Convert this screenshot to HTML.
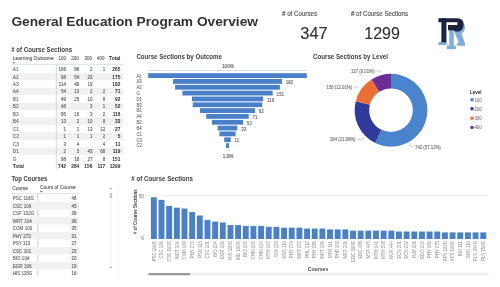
<!DOCTYPE html>
<html><head><meta charset="utf-8"><style>
html,body{margin:0;padding:0;background:#fff;width:500px;height:287px;overflow:hidden}
svg{display:block;filter:blur(0.5px)}
text{font-family:"Liberation Sans",sans-serif}
</style></head><body>
<svg width="500" height="287" viewBox="0 0 500 287">
<text x="11.4" y="25.7" font-size="13.5" fill="#333333" font-weight="bold" textLength="246.6" lengthAdjust="spacingAndGlyphs">General Education Program Overview</text>
<text x="282" y="16" font-size="6.6" fill="#555555" stroke="#555555" stroke-width="0.16" textLength="35" lengthAdjust="spacingAndGlyphs"># of Courses</text>
<text x="351" y="16" font-size="6.6" fill="#555555" stroke="#555555" stroke-width="0.16" textLength="57" lengthAdjust="spacingAndGlyphs"># of Course Sections</text>
<text x="300.3" y="39.1" font-size="16.5" fill="#333333" stroke="#333333" stroke-width="0.16" textLength="27.3" lengthAdjust="spacingAndGlyphs">347</text>
<text x="364.3" y="39.2" font-size="16.5" fill="#333333" stroke="#333333" stroke-width="0.16" textLength="35.6" lengthAdjust="spacingAndGlyphs">1299</text>
<text x="11.2" y="51.5" font-size="7" fill="#404040" font-weight="bold" textLength="61" lengthAdjust="spacingAndGlyphs"># of Course Sections</text>
<text x="12.8" y="60" font-size="5.6" fill="#666666" stroke="#666666" stroke-width="0.16" textLength="41" lengthAdjust="spacingAndGlyphs">Learning Outcome</text>
<path d="M12.3 63.2 L13.8 61.8 L15.3 63.2 Z" fill="#666"/>
<text x="66" y="60" font-size="5.6" fill="#666666" stroke="#666666" stroke-width="0.16" text-anchor="end" textLength="7.47" lengthAdjust="spacingAndGlyphs">100</text>
<text x="78.8" y="60" font-size="5.6" fill="#666666" stroke="#666666" stroke-width="0.16" text-anchor="end" textLength="7.47" lengthAdjust="spacingAndGlyphs">200</text>
<text x="92" y="60" font-size="5.6" fill="#666666" stroke="#666666" stroke-width="0.16" text-anchor="end" textLength="7.47" lengthAdjust="spacingAndGlyphs">300</text>
<text x="104.4" y="60" font-size="5.6" fill="#666666" stroke="#666666" stroke-width="0.16" text-anchor="end" textLength="7.47" lengthAdjust="spacingAndGlyphs">400</text>
<text x="120.4" y="60" font-size="5.6" fill="#2B2B2B" text-anchor="end" font-weight="bold" textLength="11.4" lengthAdjust="spacingAndGlyphs">Total</text>
<text x="12.8" y="71.125" font-size="5.3" fill="#777777" stroke="#777777" stroke-width="0.16" textLength="5.83" lengthAdjust="spacingAndGlyphs">A1</text>
<text x="66" y="71.125" font-size="5.6" fill="#666666" stroke="#666666" stroke-width="0.16" text-anchor="end" textLength="7.47" lengthAdjust="spacingAndGlyphs">166</text>
<text x="79.3" y="71.125" font-size="5.6" fill="#666666" stroke="#666666" stroke-width="0.16" text-anchor="end" textLength="4.98" lengthAdjust="spacingAndGlyphs">96</text>
<text x="92.4" y="71.125" font-size="5.6" fill="#666666" stroke="#666666" stroke-width="0.16" text-anchor="end" textLength="2.49" lengthAdjust="spacingAndGlyphs">2</text>
<text x="105.2" y="71.125" font-size="5.6" fill="#666666" stroke="#666666" stroke-width="0.16" text-anchor="end" textLength="2.49" lengthAdjust="spacingAndGlyphs">1</text>
<text x="120.4" y="71.125" font-size="5.6" fill="#2B2B2B" text-anchor="end" font-weight="bold" textLength="8.03" lengthAdjust="spacingAndGlyphs">265</text>
<rect x="11.00" y="72.85" width="112.50" height="7.45" fill="#F1F1F1"/>
<text x="12.8" y="78.575" font-size="5.3" fill="#777777" stroke="#777777" stroke-width="0.16" textLength="5.83" lengthAdjust="spacingAndGlyphs">A2</text>
<text x="66" y="78.575" font-size="5.6" fill="#666666" stroke="#666666" stroke-width="0.16" text-anchor="end" textLength="4.98" lengthAdjust="spacingAndGlyphs">98</text>
<text x="79.3" y="78.575" font-size="5.6" fill="#666666" stroke="#666666" stroke-width="0.16" text-anchor="end" textLength="4.98" lengthAdjust="spacingAndGlyphs">54</text>
<text x="92.4" y="78.575" font-size="5.6" fill="#666666" stroke="#666666" stroke-width="0.16" text-anchor="end" textLength="4.98" lengthAdjust="spacingAndGlyphs">23</text>
<text x="120.4" y="78.575" font-size="5.6" fill="#2B2B2B" text-anchor="end" font-weight="bold" textLength="8.03" lengthAdjust="spacingAndGlyphs">175</text>
<text x="12.8" y="86.025" font-size="5.3" fill="#777777" stroke="#777777" stroke-width="0.16" textLength="5.83" lengthAdjust="spacingAndGlyphs">A3</text>
<text x="66" y="86.025" font-size="5.6" fill="#666666" stroke="#666666" stroke-width="0.16" text-anchor="end" textLength="7.14" lengthAdjust="spacingAndGlyphs">114</text>
<text x="79.3" y="86.025" font-size="5.6" fill="#666666" stroke="#666666" stroke-width="0.16" text-anchor="end" textLength="4.98" lengthAdjust="spacingAndGlyphs">49</text>
<text x="92.4" y="86.025" font-size="5.6" fill="#666666" stroke="#666666" stroke-width="0.16" text-anchor="end" textLength="4.98" lengthAdjust="spacingAndGlyphs">19</text>
<text x="120.4" y="86.025" font-size="5.6" fill="#2B2B2B" text-anchor="end" font-weight="bold" textLength="8.03" lengthAdjust="spacingAndGlyphs">182</text>
<rect x="11.00" y="87.75" width="112.50" height="7.45" fill="#F1F1F1"/>
<text x="12.8" y="93.475" font-size="5.3" fill="#777777" stroke="#777777" stroke-width="0.16" textLength="5.83" lengthAdjust="spacingAndGlyphs">A4</text>
<text x="66" y="93.475" font-size="5.6" fill="#666666" stroke="#666666" stroke-width="0.16" text-anchor="end" textLength="4.98" lengthAdjust="spacingAndGlyphs">54</text>
<text x="79.3" y="93.475" font-size="5.6" fill="#666666" stroke="#666666" stroke-width="0.16" text-anchor="end" textLength="4.98" lengthAdjust="spacingAndGlyphs">13</text>
<text x="92.4" y="93.475" font-size="5.6" fill="#666666" stroke="#666666" stroke-width="0.16" text-anchor="end" textLength="2.49" lengthAdjust="spacingAndGlyphs">2</text>
<text x="105.2" y="93.475" font-size="5.6" fill="#666666" stroke="#666666" stroke-width="0.16" text-anchor="end" textLength="2.49" lengthAdjust="spacingAndGlyphs">2</text>
<text x="120.4" y="93.475" font-size="5.6" fill="#2B2B2B" text-anchor="end" font-weight="bold" textLength="5.36" lengthAdjust="spacingAndGlyphs">71</text>
<text x="12.8" y="100.925" font-size="5.3" fill="#777777" stroke="#777777" stroke-width="0.16" textLength="5.83" lengthAdjust="spacingAndGlyphs">B1</text>
<text x="66" y="100.925" font-size="5.6" fill="#666666" stroke="#666666" stroke-width="0.16" text-anchor="end" textLength="4.98" lengthAdjust="spacingAndGlyphs">49</text>
<text x="79.3" y="100.925" font-size="5.6" fill="#666666" stroke="#666666" stroke-width="0.16" text-anchor="end" textLength="4.98" lengthAdjust="spacingAndGlyphs">25</text>
<text x="92.4" y="100.925" font-size="5.6" fill="#666666" stroke="#666666" stroke-width="0.16" text-anchor="end" textLength="4.98" lengthAdjust="spacingAndGlyphs">10</text>
<text x="105.2" y="100.925" font-size="5.6" fill="#666666" stroke="#666666" stroke-width="0.16" text-anchor="end" textLength="2.49" lengthAdjust="spacingAndGlyphs">8</text>
<text x="120.4" y="100.925" font-size="5.6" fill="#2B2B2B" text-anchor="end" font-weight="bold" textLength="5.36" lengthAdjust="spacingAndGlyphs">92</text>
<rect x="11.00" y="102.65" width="112.50" height="7.45" fill="#F1F1F1"/>
<text x="12.8" y="108.375" font-size="5.3" fill="#777777" stroke="#777777" stroke-width="0.16" textLength="5.83" lengthAdjust="spacingAndGlyphs">B2</text>
<text x="66" y="108.375" font-size="5.6" fill="#666666" stroke="#666666" stroke-width="0.16" text-anchor="end" textLength="4.98" lengthAdjust="spacingAndGlyphs">48</text>
<text x="92.4" y="108.375" font-size="5.6" fill="#666666" stroke="#666666" stroke-width="0.16" text-anchor="end" textLength="2.49" lengthAdjust="spacingAndGlyphs">3</text>
<text x="105.2" y="108.375" font-size="5.6" fill="#666666" stroke="#666666" stroke-width="0.16" text-anchor="end" textLength="2.49" lengthAdjust="spacingAndGlyphs">1</text>
<text x="120.4" y="108.375" font-size="5.6" fill="#2B2B2B" text-anchor="end" font-weight="bold" textLength="5.36" lengthAdjust="spacingAndGlyphs">52</text>
<text x="12.8" y="115.825" font-size="5.3" fill="#777777" stroke="#777777" stroke-width="0.16" textLength="5.83" lengthAdjust="spacingAndGlyphs">B3</text>
<text x="66" y="115.825" font-size="5.6" fill="#666666" stroke="#666666" stroke-width="0.16" text-anchor="end" textLength="4.98" lengthAdjust="spacingAndGlyphs">95</text>
<text x="79.3" y="115.825" font-size="5.6" fill="#666666" stroke="#666666" stroke-width="0.16" text-anchor="end" textLength="4.98" lengthAdjust="spacingAndGlyphs">16</text>
<text x="92.4" y="115.825" font-size="5.6" fill="#666666" stroke="#666666" stroke-width="0.16" text-anchor="end" textLength="2.49" lengthAdjust="spacingAndGlyphs">3</text>
<text x="105.2" y="115.825" font-size="5.6" fill="#666666" stroke="#666666" stroke-width="0.16" text-anchor="end" textLength="2.49" lengthAdjust="spacingAndGlyphs">2</text>
<text x="120.4" y="115.825" font-size="5.6" fill="#2B2B2B" text-anchor="end" font-weight="bold" textLength="7.77" lengthAdjust="spacingAndGlyphs">116</text>
<rect x="11.00" y="117.55" width="112.50" height="7.45" fill="#F1F1F1"/>
<text x="12.8" y="123.275" font-size="5.3" fill="#777777" stroke="#777777" stroke-width="0.16" textLength="5.83" lengthAdjust="spacingAndGlyphs">B4</text>
<text x="66" y="123.275" font-size="5.6" fill="#666666" stroke="#666666" stroke-width="0.16" text-anchor="end" textLength="4.98" lengthAdjust="spacingAndGlyphs">13</text>
<text x="79.3" y="123.275" font-size="5.6" fill="#666666" stroke="#666666" stroke-width="0.16" text-anchor="end" textLength="2.49" lengthAdjust="spacingAndGlyphs">2</text>
<text x="92.4" y="123.275" font-size="5.6" fill="#666666" stroke="#666666" stroke-width="0.16" text-anchor="end" textLength="4.98" lengthAdjust="spacingAndGlyphs">10</text>
<text x="105.2" y="123.275" font-size="5.6" fill="#666666" stroke="#666666" stroke-width="0.16" text-anchor="end" textLength="2.49" lengthAdjust="spacingAndGlyphs">8</text>
<text x="120.4" y="123.275" font-size="5.6" fill="#2B2B2B" text-anchor="end" font-weight="bold" textLength="5.36" lengthAdjust="spacingAndGlyphs">33</text>
<text x="12.8" y="130.725" font-size="5.3" fill="#777777" stroke="#777777" stroke-width="0.16" textLength="6.1" lengthAdjust="spacingAndGlyphs">C1</text>
<text x="66" y="130.725" font-size="5.6" fill="#666666" stroke="#666666" stroke-width="0.16" text-anchor="end" textLength="2.49" lengthAdjust="spacingAndGlyphs">1</text>
<text x="79.3" y="130.725" font-size="5.6" fill="#666666" stroke="#666666" stroke-width="0.16" text-anchor="end" textLength="2.49" lengthAdjust="spacingAndGlyphs">1</text>
<text x="92.4" y="130.725" font-size="5.6" fill="#666666" stroke="#666666" stroke-width="0.16" text-anchor="end" textLength="4.98" lengthAdjust="spacingAndGlyphs">13</text>
<text x="105.2" y="130.725" font-size="5.6" fill="#666666" stroke="#666666" stroke-width="0.16" text-anchor="end" textLength="4.98" lengthAdjust="spacingAndGlyphs">12</text>
<text x="120.4" y="130.725" font-size="5.6" fill="#2B2B2B" text-anchor="end" font-weight="bold" textLength="5.36" lengthAdjust="spacingAndGlyphs">27</text>
<rect x="11.00" y="132.45" width="112.50" height="7.45" fill="#F1F1F1"/>
<text x="12.8" y="138.17499999999998" font-size="5.3" fill="#777777" stroke="#777777" stroke-width="0.16" textLength="6.1" lengthAdjust="spacingAndGlyphs">C2</text>
<text x="66" y="138.17499999999998" font-size="5.6" fill="#666666" stroke="#666666" stroke-width="0.16" text-anchor="end" textLength="2.49" lengthAdjust="spacingAndGlyphs">1</text>
<text x="79.3" y="138.17499999999998" font-size="5.6" fill="#666666" stroke="#666666" stroke-width="0.16" text-anchor="end" textLength="2.49" lengthAdjust="spacingAndGlyphs">1</text>
<text x="92.4" y="138.17499999999998" font-size="5.6" fill="#666666" stroke="#666666" stroke-width="0.16" text-anchor="end" textLength="2.49" lengthAdjust="spacingAndGlyphs">1</text>
<text x="105.2" y="138.17499999999998" font-size="5.6" fill="#666666" stroke="#666666" stroke-width="0.16" text-anchor="end" textLength="2.49" lengthAdjust="spacingAndGlyphs">2</text>
<text x="120.4" y="138.17499999999998" font-size="5.6" fill="#2B2B2B" text-anchor="end" font-weight="bold" textLength="2.68" lengthAdjust="spacingAndGlyphs">5</text>
<text x="12.8" y="145.625" font-size="5.3" fill="#777777" stroke="#777777" stroke-width="0.16" textLength="6.1" lengthAdjust="spacingAndGlyphs">C3</text>
<text x="66" y="145.625" font-size="5.6" fill="#666666" stroke="#666666" stroke-width="0.16" text-anchor="end" textLength="2.49" lengthAdjust="spacingAndGlyphs">3</text>
<text x="79.3" y="145.625" font-size="5.6" fill="#666666" stroke="#666666" stroke-width="0.16" text-anchor="end" textLength="2.49" lengthAdjust="spacingAndGlyphs">4</text>
<text x="105.2" y="145.625" font-size="5.6" fill="#666666" stroke="#666666" stroke-width="0.16" text-anchor="end" textLength="2.49" lengthAdjust="spacingAndGlyphs">4</text>
<text x="120.4" y="145.625" font-size="5.6" fill="#2B2B2B" text-anchor="end" font-weight="bold" textLength="5.09" lengthAdjust="spacingAndGlyphs">11</text>
<rect x="11.00" y="147.35" width="112.50" height="7.45" fill="#F1F1F1"/>
<text x="12.8" y="153.07500000000002" font-size="5.3" fill="#777777" stroke="#777777" stroke-width="0.16" textLength="6.1" lengthAdjust="spacingAndGlyphs">D1</text>
<text x="66" y="153.07500000000002" font-size="5.6" fill="#666666" stroke="#666666" stroke-width="0.16" text-anchor="end" textLength="2.49" lengthAdjust="spacingAndGlyphs">2</text>
<text x="79.3" y="153.07500000000002" font-size="5.6" fill="#666666" stroke="#666666" stroke-width="0.16" text-anchor="end" textLength="2.49" lengthAdjust="spacingAndGlyphs">5</text>
<text x="92.4" y="153.07500000000002" font-size="5.6" fill="#666666" stroke="#666666" stroke-width="0.16" text-anchor="end" textLength="4.98" lengthAdjust="spacingAndGlyphs">43</text>
<text x="105.2" y="153.07500000000002" font-size="5.6" fill="#666666" stroke="#666666" stroke-width="0.16" text-anchor="end" textLength="4.98" lengthAdjust="spacingAndGlyphs">69</text>
<text x="120.4" y="153.07500000000002" font-size="5.6" fill="#2B2B2B" text-anchor="end" font-weight="bold" textLength="7.77" lengthAdjust="spacingAndGlyphs">119</text>
<text x="12.8" y="160.525" font-size="5.3" fill="#777777" stroke="#777777" stroke-width="0.16" textLength="3.71" lengthAdjust="spacingAndGlyphs">G</text>
<text x="66" y="160.525" font-size="5.6" fill="#666666" stroke="#666666" stroke-width="0.16" text-anchor="end" textLength="4.98" lengthAdjust="spacingAndGlyphs">98</text>
<text x="79.3" y="160.525" font-size="5.6" fill="#666666" stroke="#666666" stroke-width="0.16" text-anchor="end" textLength="4.98" lengthAdjust="spacingAndGlyphs">18</text>
<text x="92.4" y="160.525" font-size="5.6" fill="#666666" stroke="#666666" stroke-width="0.16" text-anchor="end" textLength="4.98" lengthAdjust="spacingAndGlyphs">27</text>
<text x="105.2" y="160.525" font-size="5.6" fill="#666666" stroke="#666666" stroke-width="0.16" text-anchor="end" textLength="2.49" lengthAdjust="spacingAndGlyphs">8</text>
<text x="120.4" y="160.525" font-size="5.6" fill="#2B2B2B" text-anchor="end" font-weight="bold" textLength="8.03" lengthAdjust="spacingAndGlyphs">151</text>
<text x="12.8" y="167.975" font-size="5.6" fill="#2B2B2B" font-weight="bold" textLength="11.15" lengthAdjust="spacingAndGlyphs">Total</text>
<text x="66" y="167.975" font-size="5.6" fill="#2B2B2B" text-anchor="end" font-weight="bold" textLength="8.03" lengthAdjust="spacingAndGlyphs">742</text>
<text x="79.3" y="167.975" font-size="5.6" fill="#2B2B2B" text-anchor="end" font-weight="bold" textLength="8.03" lengthAdjust="spacingAndGlyphs">284</text>
<text x="92.4" y="167.975" font-size="5.6" fill="#2B2B2B" text-anchor="end" font-weight="bold" textLength="8.03" lengthAdjust="spacingAndGlyphs">156</text>
<text x="105.2" y="167.975" font-size="5.6" fill="#2B2B2B" text-anchor="end" font-weight="bold" textLength="7.77" lengthAdjust="spacingAndGlyphs">117</text>
<text x="120.4" y="167.975" font-size="5.6" fill="#2B2B2B" text-anchor="end" font-weight="bold" textLength="10.71" lengthAdjust="spacingAndGlyphs">1299</text>
<line x1="11" y1="64.3" x2="123.5" y2="64.3" stroke="#C5D2E2" stroke-width="0.7"/>
<line x1="56.3" y1="64.3" x2="56.3" y2="169.5" stroke="#B9C9DD" stroke-width="0.7"/>
<text x="11.4" y="181" font-size="7" fill="#404040" font-weight="bold" textLength="36" lengthAdjust="spacingAndGlyphs">Top Courses</text>
<text x="12.2" y="189.5" font-size="5.6" fill="#666666" stroke="#666666" stroke-width="0.16" textLength="15.89" lengthAdjust="spacingAndGlyphs">Course</text>
<text x="40" y="189.2" font-size="5.6" fill="#666666" stroke="#666666" stroke-width="0.16" textLength="35.6" lengthAdjust="spacingAndGlyphs">Count of Course</text>
<path d="M40 190.9 L41.4 192.5 L42.8 190.9 Z" fill="#555"/>
<line x1="11" y1="193.7" x2="79" y2="193.7" stroke="#C5D2E2" stroke-width="0.7"/>
<line x1="37.8" y1="193.7" x2="37.8" y2="276" stroke="#AFC2DA" stroke-width="0.75"/>
<text x="12.8" y="200.34" font-size="5.4" fill="#6E6E6E" stroke="#6E6E6E" stroke-width="0.16" textLength="21.35" lengthAdjust="spacingAndGlyphs">PSC 116G</text>
<text x="76.4" y="200.34" font-size="5.6" fill="#666666" stroke="#666666" stroke-width="0.16" text-anchor="end" textLength="4.98" lengthAdjust="spacingAndGlyphs">48</text>
<rect x="11.00" y="202.08" width="68.00" height="7.48" fill="#F1F1F1"/>
<text x="12.8" y="207.82" font-size="5.4" fill="#6E6E6E" stroke="#6E6E6E" stroke-width="0.16" textLength="18.4" lengthAdjust="spacingAndGlyphs">CSC 106</text>
<text x="76.4" y="207.82" font-size="5.6" fill="#666666" stroke="#666666" stroke-width="0.16" text-anchor="end" textLength="4.98" lengthAdjust="spacingAndGlyphs">45</text>
<text x="12.8" y="215.3" font-size="5.4" fill="#6E6E6E" stroke="#6E6E6E" stroke-width="0.16" textLength="21.43" lengthAdjust="spacingAndGlyphs">CSF 102G</text>
<text x="76.4" y="215.3" font-size="5.6" fill="#666666" stroke="#666666" stroke-width="0.16" text-anchor="end" textLength="4.98" lengthAdjust="spacingAndGlyphs">38</text>
<rect x="11.00" y="217.04" width="68.00" height="7.48" fill="#F1F1F1"/>
<text x="12.8" y="222.78" font-size="5.4" fill="#6E6E6E" stroke="#6E6E6E" stroke-width="0.16" textLength="18.99" lengthAdjust="spacingAndGlyphs">WRT 104</text>
<text x="76.4" y="222.78" font-size="5.6" fill="#666666" stroke="#666666" stroke-width="0.16" text-anchor="end" textLength="4.98" lengthAdjust="spacingAndGlyphs">36</text>
<text x="12.8" y="230.26" font-size="5.4" fill="#6E6E6E" stroke="#6E6E6E" stroke-width="0.16" textLength="19.41" lengthAdjust="spacingAndGlyphs">COM 100</text>
<text x="76.4" y="230.26" font-size="5.6" fill="#666666" stroke="#666666" stroke-width="0.16" text-anchor="end" textLength="4.98" lengthAdjust="spacingAndGlyphs">35</text>
<rect x="11.00" y="232.00" width="68.00" height="7.48" fill="#F1F1F1"/>
<text x="12.8" y="237.74" font-size="5.4" fill="#6E6E6E" stroke="#6E6E6E" stroke-width="0.16" textLength="18.07" lengthAdjust="spacingAndGlyphs">PHY 273</text>
<text x="76.4" y="237.74" font-size="5.6" fill="#666666" stroke="#666666" stroke-width="0.16" text-anchor="end" textLength="4.98" lengthAdjust="spacingAndGlyphs">31</text>
<text x="12.8" y="245.22" font-size="5.4" fill="#6E6E6E" stroke="#6E6E6E" stroke-width="0.16" textLength="17.49" lengthAdjust="spacingAndGlyphs">PSY 113</text>
<text x="76.4" y="245.22" font-size="5.6" fill="#666666" stroke="#666666" stroke-width="0.16" text-anchor="end" textLength="4.98" lengthAdjust="spacingAndGlyphs">27</text>
<rect x="11.00" y="246.96" width="68.00" height="7.48" fill="#F1F1F1"/>
<text x="12.8" y="252.7" font-size="5.4" fill="#6E6E6E" stroke="#6E6E6E" stroke-width="0.16" textLength="18.4" lengthAdjust="spacingAndGlyphs">CSC 101</text>
<text x="76.4" y="252.7" font-size="5.6" fill="#666666" stroke="#666666" stroke-width="0.16" text-anchor="end" textLength="4.98" lengthAdjust="spacingAndGlyphs">22</text>
<text x="12.8" y="260.18" font-size="5.4" fill="#6E6E6E" stroke="#6E6E6E" stroke-width="0.16" textLength="16.64" lengthAdjust="spacingAndGlyphs">BIO 104</text>
<text x="76.4" y="260.18" font-size="5.6" fill="#666666" stroke="#666666" stroke-width="0.16" text-anchor="end" textLength="4.98" lengthAdjust="spacingAndGlyphs">20</text>
<rect x="11.00" y="261.92" width="68.00" height="7.48" fill="#F1F1F1"/>
<text x="12.8" y="267.66" font-size="5.4" fill="#6E6E6E" stroke="#6E6E6E" stroke-width="0.16" textLength="18.66" lengthAdjust="spacingAndGlyphs">EGR 106</text>
<text x="76.4" y="267.66" font-size="5.6" fill="#666666" stroke="#666666" stroke-width="0.16" text-anchor="end" textLength="4.98" lengthAdjust="spacingAndGlyphs">19</text>
<text x="12.8" y="275.14" font-size="5.4" fill="#6E6E6E" stroke="#6E6E6E" stroke-width="0.16" textLength="19.58" lengthAdjust="spacingAndGlyphs">HIS 115G</text>
<text x="76.4" y="275.14" font-size="5.6" fill="#666666" stroke="#666666" stroke-width="0.16" text-anchor="end" textLength="4.98" lengthAdjust="spacingAndGlyphs">16</text>
<rect x="109.90" y="190.00" width="2.20" height="75.50" fill="#F6F6F6"/>
<line x1="117.6" y1="183" x2="117.6" y2="278" stroke="#F4F4F4" stroke-width="0.5"/>
<path d="M109.6 189 L111 187.4 L112.4 189 Z" fill="#999"/>
<rect x="109.80" y="193.20" width="2.40" height="4.80" fill="#C8C8C8"/>
<path d="M109.6 266.8 L111 268.4 L112.4 266.8 Z" fill="#999"/>
<text x="136.4" y="59.4" font-size="7" fill="#404040" font-weight="bold" textLength="85.6" lengthAdjust="spacingAndGlyphs">Course Sections by Outcome</text>
<text x="228" y="67.8" font-size="5.2" fill="#666666" stroke="#666666" stroke-width="0.16" text-anchor="middle" textLength="11.97" lengthAdjust="spacingAndGlyphs">100%</text>
<line x1="148.4" y1="70.5" x2="307" y2="70.5" stroke="#C8D3E0" stroke-width="0.7"/>
<rect x="148.20" y="73.20" width="158.60" height="4.80" fill="#4A80C9"/>
<text x="136.4" y="77.50000000000001" font-size="5.2" fill="#808080" stroke="#808080" stroke-width="0.16" textLength="5.41" lengthAdjust="spacingAndGlyphs">A1</text>
<rect x="173.04" y="79.03" width="108.93" height="4.80" fill="#4A80C9"/>
<text x="136.4" y="83.33000000000001" font-size="5.2" fill="#808080" stroke="#808080" stroke-width="0.16" textLength="5.41" lengthAdjust="spacingAndGlyphs">A3</text>
<text x="285.762641509434" y="84.03" font-size="5.2" fill="#707070" stroke="#707070" stroke-width="0.16" textLength="7.63" lengthAdjust="spacingAndGlyphs">182</text>
<rect x="175.13" y="84.86" width="104.74" height="4.80" fill="#4A80C9"/>
<text x="136.4" y="89.16000000000001" font-size="5.2" fill="#808080" stroke="#808080" stroke-width="0.16" textLength="5.41" lengthAdjust="spacingAndGlyphs">A2</text>
<rect x="182.31" y="90.69" width="90.37" height="4.80" fill="#4A80C9"/>
<text x="136.4" y="94.99000000000001" font-size="5.2" fill="#808080" stroke="#808080" stroke-width="0.16" textLength="3.44" lengthAdjust="spacingAndGlyphs">G</text>
<text x="276.48603773584904" y="95.69" font-size="5.2" fill="#707070" stroke="#707070" stroke-width="0.16" textLength="7.63" lengthAdjust="spacingAndGlyphs">151</text>
<rect x="191.89" y="96.52" width="71.22" height="4.80" fill="#4A80C9"/>
<text x="136.4" y="100.82000000000002" font-size="5.2" fill="#808080" stroke="#808080" stroke-width="0.16" textLength="5.65" lengthAdjust="spacingAndGlyphs">D1</text>
<text x="266.91018867924527" y="101.52000000000001" font-size="5.2" fill="#707070" stroke="#707070" stroke-width="0.16" textLength="7.29" lengthAdjust="spacingAndGlyphs">119</text>
<rect x="192.79" y="102.35" width="69.42" height="4.80" fill="#4A80C9"/>
<text x="136.4" y="106.65" font-size="5.2" fill="#808080" stroke="#808080" stroke-width="0.16" textLength="5.41" lengthAdjust="spacingAndGlyphs">B3</text>
<rect x="199.97" y="108.18" width="55.06" height="4.80" fill="#4A80C9"/>
<text x="136.4" y="112.48000000000002" font-size="5.2" fill="#808080" stroke="#808080" stroke-width="0.16" textLength="5.41" lengthAdjust="spacingAndGlyphs">B1</text>
<text x="258.8305660377358" y="113.18" font-size="5.2" fill="#707070" stroke="#707070" stroke-width="0.16" textLength="5.09" lengthAdjust="spacingAndGlyphs">92</text>
<rect x="206.25" y="114.01" width="42.49" height="4.80" fill="#4A80C9"/>
<text x="136.4" y="118.31000000000002" font-size="5.2" fill="#808080" stroke="#808080" stroke-width="0.16" textLength="5.41" lengthAdjust="spacingAndGlyphs">A4</text>
<text x="252.54641509433964" y="119.01" font-size="5.2" fill="#707070" stroke="#707070" stroke-width="0.16" textLength="5.09" lengthAdjust="spacingAndGlyphs">71</text>
<rect x="211.94" y="119.84" width="31.12" height="4.80" fill="#4A80C9"/>
<text x="136.4" y="124.14000000000001" font-size="5.2" fill="#808080" stroke="#808080" stroke-width="0.16" textLength="5.41" lengthAdjust="spacingAndGlyphs">B2</text>
<text x="246.86075471698115" y="124.84" font-size="5.2" fill="#707070" stroke="#707070" stroke-width="0.16" textLength="5.09" lengthAdjust="spacingAndGlyphs">52</text>
<rect x="217.62" y="125.67" width="19.75" height="4.80" fill="#4A80C9"/>
<text x="136.4" y="129.97" font-size="5.2" fill="#808080" stroke="#808080" stroke-width="0.16" textLength="5.41" lengthAdjust="spacingAndGlyphs">B4</text>
<text x="241.17509433962266" y="130.67" font-size="5.2" fill="#707070" stroke="#707070" stroke-width="0.16" textLength="5.09" lengthAdjust="spacingAndGlyphs">33</text>
<rect x="219.42" y="131.50" width="16.16" height="4.80" fill="#4A80C9"/>
<text x="136.4" y="135.8" font-size="5.2" fill="#808080" stroke="#808080" stroke-width="0.16" textLength="5.65" lengthAdjust="spacingAndGlyphs">C1</text>
<rect x="224.21" y="137.33" width="6.58" height="4.80" fill="#4A80C9"/>
<text x="136.4" y="141.63" font-size="5.2" fill="#808080" stroke="#808080" stroke-width="0.16" textLength="5.65" lengthAdjust="spacingAndGlyphs">C3</text>
<text x="234.59169811320757" y="142.32999999999998" font-size="5.2" fill="#707070" stroke="#707070" stroke-width="0.16" textLength="4.75" lengthAdjust="spacingAndGlyphs">11</text>
<rect x="226.00" y="143.16" width="2.99" height="4.80" fill="#4A80C9"/>
<text x="136.4" y="147.46000000000004" font-size="5.2" fill="#808080" stroke="#808080" stroke-width="0.16" textLength="5.65" lengthAdjust="spacingAndGlyphs">C2</text>
<line x1="226" y1="150.3" x2="230" y2="150.3" stroke="#BBBBBB" stroke-width="0.6"/>
<text x="228" y="157.5" font-size="5.2" fill="#666666" stroke="#666666" stroke-width="0.16" text-anchor="middle" textLength="10.67" lengthAdjust="spacingAndGlyphs">1.9%</text>
<text x="313" y="59.4" font-size="7" fill="#404040" font-weight="bold" textLength="75" lengthAdjust="spacingAndGlyphs">Course Sections by Level</text>
<path d="M391.00 73.80 A36.4 36.4 0 1 1 375.25 143.02 L381.57 129.85 A21.8 21.8 0 1 0 391.00 88.40 Z" fill="#4A84CE"/>
<path d="M375.25 143.02 A36.4 36.4 0 0 1 355.73 101.18 L369.88 104.80 A21.8 21.8 0 0 0 381.57 129.85 Z" fill="#2F3C9E"/>
<path d="M355.73 101.18 A36.4 36.4 0 0 1 371.48 79.47 L379.31 91.80 A21.8 21.8 0 0 0 369.88 104.80 Z" fill="#EB6F34"/>
<path d="M371.48 79.47 A36.4 36.4 0 0 1 391.00 73.80 L391.00 88.40 A21.8 21.8 0 0 0 379.31 91.80 Z" fill="#6C2E94"/>
<text x="351" y="72.8" font-size="5" fill="#7A7A7A" stroke="#7A7A7A" stroke-width="0.16" textLength="23.6" lengthAdjust="spacingAndGlyphs">117 (9.01%)</text>
<polyline points="375.5,71 380,71 381,72.5" fill="none" stroke="#A8A8A8" stroke-width="0.55"/>
<text x="326.6" y="88.8" font-size="5" fill="#7A7A7A" stroke="#7A7A7A" stroke-width="0.16" textLength="25.4" lengthAdjust="spacingAndGlyphs">156 (12.01%)</text>
<line x1="353.8" y1="87" x2="359.2" y2="87" stroke="#A8A8A8" stroke-width="0.55"/>
<text x="330" y="141" font-size="5" fill="#7A7A7A" stroke="#7A7A7A" stroke-width="0.16" textLength="25.5" lengthAdjust="spacingAndGlyphs">284 (21.86%)</text>
<polyline points="358,139.5 361,139.5 364,137" fill="none" stroke="#A0A0A0" stroke-width="0.5"/>
<text x="415" y="148.8" font-size="5" fill="#7A7A7A" stroke="#7A7A7A" stroke-width="0.16" textLength="25.8" lengthAdjust="spacingAndGlyphs">742 (57.12%)</text>
<polyline points="408,141 411,147 413.5,147" fill="none" stroke="#A0A0A0" stroke-width="0.5"/>
<text x="470" y="93.5" font-size="5.2" fill="#2B2B2B" font-weight="bold" textLength="11.6" lengthAdjust="spacingAndGlyphs">Level</text>
<circle cx="472" cy="99.7" r="1.75" fill="#4A84CE"/>
<text x="474.5" y="101.5" font-size="5" fill="#8A8A8A" stroke="#8A8A8A" stroke-width="0.16" textLength="7.09" lengthAdjust="spacingAndGlyphs">100</text>
<circle cx="472" cy="108.7" r="1.75" fill="#2F3C9E"/>
<text x="474.5" y="110.5" font-size="5" fill="#8A8A8A" stroke="#8A8A8A" stroke-width="0.16" textLength="7.09" lengthAdjust="spacingAndGlyphs">200</text>
<circle cx="472" cy="118.3" r="1.75" fill="#EB6F34"/>
<text x="474.5" y="120.1" font-size="5" fill="#8A8A8A" stroke="#8A8A8A" stroke-width="0.16" textLength="7.09" lengthAdjust="spacingAndGlyphs">300</text>
<circle cx="472" cy="127.5" r="1.75" fill="#6C2E94"/>
<text x="474.5" y="129.3" font-size="5" fill="#8A8A8A" stroke="#8A8A8A" stroke-width="0.16" textLength="7.09" lengthAdjust="spacingAndGlyphs">400</text>
<text x="131.3" y="181" font-size="7" fill="#404040" font-weight="bold" textLength="61.7" lengthAdjust="spacingAndGlyphs"># of Course Sections</text>
<text transform="translate(136.5,234.2) rotate(-90)" font-size="5.8" font-weight="bold" fill="#444444" textLength="45" lengthAdjust="spacingAndGlyphs"># of Course Sections</text>
<line x1="146" y1="195.6" x2="488" y2="195.6" stroke="#E2E2E2" stroke-width="0.6"/>
<text x="144" y="197.6" font-size="4.8" fill="#9A9A9A" stroke="#9A9A9A" stroke-width="0.16" text-anchor="end">50</text>
<text x="144" y="240.4" font-size="4.8" fill="#9A9A9A" stroke="#9A9A9A" stroke-width="0.16" text-anchor="end">0</text>
<rect x="150.90" y="197.24" width="5.90" height="41.76" fill="#4A80C9"/>
<text transform="translate(155.55,241) rotate(-90)" font-size="4.8" fill="#8E8E8E" text-anchor="end" textLength="20.33" lengthAdjust="spacingAndGlyphs">PSC 116G</text>
<rect x="158.56" y="199.85" width="5.90" height="39.15" fill="#4A80C9"/>
<text transform="translate(163.21,241) rotate(-90)" font-size="4.8" fill="#8E8E8E" text-anchor="end" textLength="17.53" lengthAdjust="spacingAndGlyphs">CSC 106</text>
<rect x="166.22" y="205.94" width="5.90" height="33.06" fill="#4A80C9"/>
<text transform="translate(170.87,241) rotate(-90)" font-size="4.8" fill="#8E8E8E" text-anchor="end" textLength="20.41" lengthAdjust="spacingAndGlyphs">CSF 102G</text>
<rect x="173.88" y="207.68" width="5.90" height="31.32" fill="#4A80C9"/>
<text transform="translate(178.53,241) rotate(-90)" font-size="4.8" fill="#8E8E8E" text-anchor="end" textLength="18.09" lengthAdjust="spacingAndGlyphs">WRT 104</text>
<rect x="181.54" y="208.55" width="5.90" height="30.45" fill="#4A80C9"/>
<text transform="translate(186.19,241) rotate(-90)" font-size="4.8" fill="#8E8E8E" text-anchor="end" textLength="18.49" lengthAdjust="spacingAndGlyphs">COM 100</text>
<rect x="189.20" y="212.03" width="5.90" height="26.97" fill="#4A80C9"/>
<text transform="translate(193.85,241) rotate(-90)" font-size="4.8" fill="#8E8E8E" text-anchor="end" textLength="17.21" lengthAdjust="spacingAndGlyphs">PHY 273</text>
<rect x="196.86" y="215.51" width="5.90" height="23.49" fill="#4A80C9"/>
<text transform="translate(201.51,241) rotate(-90)" font-size="4.8" fill="#8E8E8E" text-anchor="end" textLength="16.65" lengthAdjust="spacingAndGlyphs">PSY 113</text>
<rect x="204.52" y="219.86" width="5.90" height="19.14" fill="#4A80C9"/>
<text transform="translate(209.17,241) rotate(-90)" font-size="4.8" fill="#8E8E8E" text-anchor="end" textLength="17.53" lengthAdjust="spacingAndGlyphs">CSC 101</text>
<rect x="212.18" y="221.60" width="5.90" height="17.40" fill="#4A80C9"/>
<text transform="translate(216.83,241) rotate(-90)" font-size="4.8" fill="#8E8E8E" text-anchor="end" textLength="15.85" lengthAdjust="spacingAndGlyphs">BIO 104</text>
<rect x="219.84" y="222.47" width="5.90" height="16.53" fill="#4A80C9"/>
<text transform="translate(224.49,241) rotate(-90)" font-size="4.8" fill="#8E8E8E" text-anchor="end" textLength="17.77" lengthAdjust="spacingAndGlyphs">EGR 106</text>
<rect x="227.50" y="225.08" width="5.90" height="13.92" fill="#4A80C9"/>
<text transform="translate(232.15,241) rotate(-90)" font-size="4.8" fill="#8E8E8E" text-anchor="end" textLength="18.65" lengthAdjust="spacingAndGlyphs">HIS 115G</text>
<rect x="235.16" y="225.08" width="5.90" height="13.92" fill="#4A80C9"/>
<text transform="translate(239.81,241) rotate(-90)" font-size="4.8" fill="#8E8E8E" text-anchor="end" textLength="18.97" lengthAdjust="spacingAndGlyphs">INE 100G</text>
<rect x="242.82" y="225.95" width="5.90" height="13.05" fill="#4A80C9"/>
<text transform="translate(247.47,241) rotate(-90)" font-size="4.8" fill="#8E8E8E" text-anchor="end" textLength="15.85" lengthAdjust="spacingAndGlyphs">BIO 103</text>
<rect x="250.48" y="225.95" width="5.90" height="13.05" fill="#4A80C9"/>
<text transform="translate(255.13,241) rotate(-90)" font-size="4.8" fill="#8E8E8E" text-anchor="end" textLength="18.25" lengthAdjust="spacingAndGlyphs">CHM 103</text>
<rect x="258.14" y="225.95" width="5.90" height="13.05" fill="#4A80C9"/>
<text transform="translate(262.79,241) rotate(-90)" font-size="4.8" fill="#8E8E8E" text-anchor="end" textLength="18.25" lengthAdjust="spacingAndGlyphs">CHM 124</text>
<rect x="265.80" y="226.82" width="5.90" height="12.18" fill="#4A80C9"/>
<text transform="translate(270.45,241) rotate(-90)" font-size="4.8" fill="#8E8E8E" text-anchor="end" textLength="17.76" lengthAdjust="spacingAndGlyphs">MTH 142</text>
<rect x="273.46" y="226.82" width="5.90" height="12.18" fill="#4A80C9"/>
<text transform="translate(278.11,241) rotate(-90)" font-size="4.8" fill="#8E8E8E" text-anchor="end" textLength="16.25" lengthAdjust="spacingAndGlyphs">STA 220</text>
<rect x="281.12" y="227.69" width="5.90" height="11.31" fill="#4A80C9"/>
<text transform="translate(285.77,241) rotate(-90)" font-size="4.8" fill="#8E8E8E" text-anchor="end" textLength="17.45" lengthAdjust="spacingAndGlyphs">ENG 110</text>
<rect x="288.78" y="227.69" width="5.90" height="11.31" fill="#4A80C9"/>
<text transform="translate(293.43,241) rotate(-90)" font-size="4.8" fill="#8E8E8E" text-anchor="end" textLength="17.21" lengthAdjust="spacingAndGlyphs">PHY 274</text>
<rect x="296.44" y="227.69" width="5.90" height="11.31" fill="#4A80C9"/>
<text transform="translate(301.09,241) rotate(-90)" font-size="4.8" fill="#8E8E8E" text-anchor="end" textLength="18.09" lengthAdjust="spacingAndGlyphs">WRT 227</text>
<rect x="304.10" y="228.56" width="5.90" height="10.44" fill="#4A80C9"/>
<text transform="translate(308.75,241) rotate(-90)" font-size="4.8" fill="#8E8E8E" text-anchor="end" textLength="16.65" lengthAdjust="spacingAndGlyphs">PHL 212</text>
<rect x="311.76" y="228.56" width="5.90" height="10.44" fill="#4A80C9"/>
<text transform="translate(316.41,241) rotate(-90)" font-size="4.8" fill="#8E8E8E" text-anchor="end" textLength="17.21" lengthAdjust="spacingAndGlyphs">PHY 185</text>
<rect x="319.42" y="228.56" width="5.90" height="10.44" fill="#4A80C9"/>
<text transform="translate(324.07,241) rotate(-90)" font-size="4.8" fill="#8E8E8E" text-anchor="end" textLength="18.09" lengthAdjust="spacingAndGlyphs">WRT 106</text>
<rect x="327.08" y="229.43" width="5.90" height="9.57" fill="#4A80C9"/>
<text transform="translate(331.73,241) rotate(-90)" font-size="4.8" fill="#8E8E8E" text-anchor="end" textLength="17.12" lengthAdjust="spacingAndGlyphs">MTH 111</text>
<rect x="334.74" y="229.43" width="5.90" height="9.57" fill="#4A80C9"/>
<text transform="translate(339.39,241) rotate(-90)" font-size="4.8" fill="#8E8E8E" text-anchor="end" textLength="17.21" lengthAdjust="spacingAndGlyphs">PHP 300</text>
<rect x="342.40" y="229.43" width="5.90" height="9.57" fill="#4A80C9"/>
<text transform="translate(347.05,241) rotate(-90)" font-size="4.8" fill="#8E8E8E" text-anchor="end" textLength="17.61" lengthAdjust="spacingAndGlyphs">MRT 201</text>
<rect x="350.06" y="230.65" width="5.90" height="8.35" fill="#4A80C9"/>
<text transform="translate(354.71,241) rotate(-90)" font-size="4.8" fill="#8E8E8E" text-anchor="end" textLength="20.89" lengthAdjust="spacingAndGlyphs">EDC 300G</text>
<rect x="357.72" y="230.65" width="5.90" height="8.35" fill="#4A80C9"/>
<text transform="translate(362.37,241) rotate(-90)" font-size="4.8" fill="#8E8E8E" text-anchor="end" textLength="17.53" lengthAdjust="spacingAndGlyphs">EDC 485</text>
<rect x="365.38" y="230.65" width="5.90" height="8.35" fill="#4A80C9"/>
<text transform="translate(370.03,241) rotate(-90)" font-size="4.8" fill="#8E8E8E" text-anchor="end" textLength="17.45" lengthAdjust="spacingAndGlyphs">MST 445</text>
<rect x="373.04" y="230.65" width="5.90" height="8.35" fill="#4A80C9"/>
<text transform="translate(377.69,241) rotate(-90)" font-size="4.8" fill="#8E8E8E" text-anchor="end" textLength="17.76" lengthAdjust="spacingAndGlyphs">MTH 141</text>
<rect x="380.70" y="230.65" width="5.90" height="8.35" fill="#4A80C9"/>
<text transform="translate(385.35,241) rotate(-90)" font-size="4.8" fill="#8E8E8E" text-anchor="end" textLength="17.76" lengthAdjust="spacingAndGlyphs">MTH 208</text>
<rect x="388.36" y="230.65" width="5.90" height="8.35" fill="#4A80C9"/>
<text transform="translate(393.01,241) rotate(-90)" font-size="4.8" fill="#8E8E8E" text-anchor="end" textLength="17.77" lengthAdjust="spacingAndGlyphs">NUR 444</text>
<rect x="396.02" y="231.52" width="5.90" height="7.48" fill="#4A80C9"/>
<text transform="translate(400.67,241) rotate(-90)" font-size="4.8" fill="#8E8E8E" text-anchor="end" textLength="17.53" lengthAdjust="spacingAndGlyphs">ECN 201</text>
<rect x="403.68" y="231.52" width="5.90" height="7.48" fill="#4A80C9"/>
<text transform="translate(408.33,241) rotate(-90)" font-size="4.8" fill="#8E8E8E" text-anchor="end" textLength="17.53" lengthAdjust="spacingAndGlyphs">ECN 202</text>
<rect x="411.34" y="231.52" width="5.90" height="7.48" fill="#4A80C9"/>
<text transform="translate(415.99,241) rotate(-90)" font-size="4.8" fill="#8E8E8E" text-anchor="end" textLength="17.05" lengthAdjust="spacingAndGlyphs">FLM 101</text>
<rect x="419.00" y="231.52" width="5.90" height="7.48" fill="#4A80C9"/>
<text transform="translate(423.65,241) rotate(-90)" font-size="4.8" fill="#8E8E8E" text-anchor="end" textLength="18.01" lengthAdjust="spacingAndGlyphs">GEO 103</text>
<rect x="426.66" y="231.52" width="5.90" height="7.48" fill="#4A80C9"/>
<text transform="translate(431.31,241) rotate(-90)" font-size="4.8" fill="#8E8E8E" text-anchor="end" textLength="17.21" lengthAdjust="spacingAndGlyphs">PHY 186</text>
<rect x="434.32" y="231.52" width="5.90" height="7.48" fill="#4A80C9"/>
<text transform="translate(438.97,241) rotate(-90)" font-size="4.8" fill="#8E8E8E" text-anchor="end" textLength="17.21" lengthAdjust="spacingAndGlyphs">PHY 275</text>
<rect x="441.98" y="232.39" width="5.90" height="6.61" fill="#4A80C9"/>
<text transform="translate(446.63,241) rotate(-90)" font-size="4.8" fill="#8E8E8E" text-anchor="end" textLength="20.17" lengthAdjust="spacingAndGlyphs">AFS 102G</text>
<rect x="449.64" y="232.39" width="5.90" height="6.61" fill="#4A80C9"/>
<text transform="translate(454.29,241) rotate(-90)" font-size="4.8" fill="#8E8E8E" text-anchor="end" textLength="20.17" lengthAdjust="spacingAndGlyphs">AFS 100G</text>
<rect x="457.30" y="232.39" width="5.90" height="6.61" fill="#4A80C9"/>
<text transform="translate(461.95,241) rotate(-90)" font-size="4.8" fill="#8E8E8E" text-anchor="end" textLength="15.21" lengthAdjust="spacingAndGlyphs">BIO 111</text>
<rect x="464.96" y="232.39" width="5.90" height="6.61" fill="#4A80C9"/>
<text transform="translate(469.61,241) rotate(-90)" font-size="4.8" fill="#8E8E8E" text-anchor="end" textLength="17.45" lengthAdjust="spacingAndGlyphs">SMS 110</text>
<rect x="472.62" y="232.39" width="5.90" height="6.61" fill="#4A80C9"/>
<text transform="translate(477.27,241) rotate(-90)" font-size="4.8" fill="#8E8E8E" text-anchor="end" textLength="20.17" lengthAdjust="spacingAndGlyphs">RLS 204G</text>
<rect x="480.28" y="232.39" width="5.90" height="6.61" fill="#4A80C9"/>
<text transform="translate(484.93,241) rotate(-90)" font-size="4.8" fill="#8E8E8E" text-anchor="end" textLength="19.93" lengthAdjust="spacingAndGlyphs">PLS 150G</text>
<text x="318" y="271.4" font-size="5.4" fill="#444444" text-anchor="middle" font-weight="bold" textLength="20.5" lengthAdjust="spacingAndGlyphs">Courses</text>
<rect x="147.50" y="272.80" width="341.50" height="2.60" fill="#EFEFEF" rx="1.2"/>
<rect x="148.30" y="273.00" width="42.00" height="2.30" fill="#9A9A9A" rx="1.1"/>

<g>
<path d="M459 21 Q465.2 22 465 27.5 Q464.8 33.5 459 34.2 L455 34.2 L455 30 Z" fill="#7FAEDC"/>
<rect x="449.2" y="29.5" width="4.6" height="17" fill="#7FAEDC"/>
<rect x="446.7" y="45.6" width="9.1" height="3.6" fill="#7FAEDC"/>
<path d="M453.6 29.5 L460 29.5 L465 43.5 L459 43.5 Z" fill="#7FAEDC"/>
<rect x="457.2" y="42.6" width="7.8" height="3.2" fill="#7FAEDC"/>
<rect x="438.4" y="42" width="8.3" height="3" fill="#7FAEDC"/>
<path d="M438.4 18.3 L457 18.3 Q463.6 18.3 463.6 24.5 Q463.6 30.8 458.5 31.6 L455.5 31.6 L453.5 30.2 L448 30.2 L448 24.9 L457.4 24.9 L457.4 22.2 L438.4 22.2 Z" fill="#1C2340"/>
<rect x="441.4" y="18.3" width="5" height="24" fill="#1C2340"/>
</g>
</svg>
</body></html>
